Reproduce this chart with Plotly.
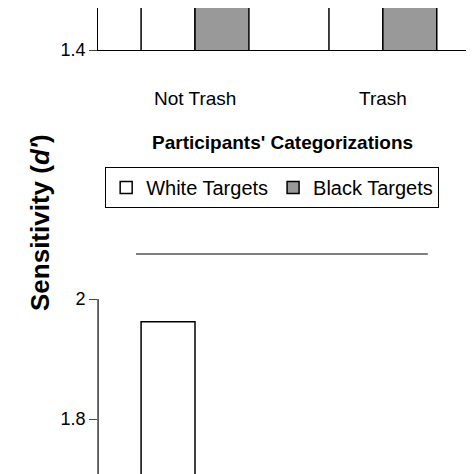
import plotly.graph_objects as go

categories = ["Not Trash", "Trash"]
series_names = ["White Targets", "Black Targets"]
top_white = [1.62, 1.62]
top_black = [1.62, 1.62]
bot_white = [1.962, 1.66]
bot_black = [1.66, 1.66]
bracket_x = [-0.314, 1.239]
bracket_y = [2.075, 2.075]
top_ticks = [1.4]
bot_ticks = [1.8, 2.0]

colors = ["white", "#999999"]
fig = go.Figure()
for name, vals, c in [(series_names[0], top_white, colors[0]), (series_names[1], top_black, colors[1])]:
    fig.add_bar(x=[0, 1], y=vals, name=name, marker=dict(color=c, line=dict(color="black", width=1.5)),
                xaxis="x", yaxis="y", offsetgroup=name)
for name, vals, c in [(series_names[0], bot_white, colors[0]), (series_names[1], bot_black, colors[1])]:
    fig.add_bar(x=[0, 1], y=vals, name=name, showlegend=False,
                marker=dict(color=c, line=dict(color="black", width=1.5)),
                xaxis="x2", yaxis="y2", offsetgroup=name)
fig.add_scatter(x=bracket_x, y=bracket_y, mode="lines", line=dict(color="black", width=1.2),
                showlegend=False, xaxis="x2", yaxis="y2")

xr = [-0.516, 1.452]
fig.update_layout(
    width=474, height=474, margin=dict(l=0, r=0, t=0, b=0, autoexpand=False),
    paper_bgcolor="white", plot_bgcolor="white",
    barmode="group", bargap=0.426, bargroupgap=0,
    font=dict(family="Arial, Liberation Sans", size=19, color="black"),
    xaxis=dict(domain=[0.19, 0.97], range=xr, showticklabels=False, showline=True, linecolor="black",
               ticks="", showgrid=False, anchor="y", zeroline=False, automargin=False),
    yaxis=dict(domain=[1 - 42 / 474, 1], range=[1.4, 1.47], tickvals=top_ticks, ticktext=["1.4"],
               ticks="outside", ticklen=8, showline=True, linecolor="black", showgrid=False,
               zeroline=False, anchor="x", tickfont=dict(size=18), automargin=False),
    xaxis2=dict(domain=[0.19, 0.97], range=xr, visible=False, anchor="y2", automargin=False),
    yaxis2=dict(domain=[0, 1 - 240 / 474], range=[1.695, 2.085], tickvals=bot_ticks, ticktext=["1.8", "2"],
                ticks="outside", ticklen=8, showline=False, showgrid=False, zeroline=False,
                anchor="x2", tickfont=dict(size=18), automargin=False),
    legend=dict(orientation="h", x=0.205, y=1 - 159 / 474, xanchor="left", yanchor="top",
                bordercolor="black", borderwidth=1, font=dict(size=20), itemwidth=30,
                tracegroupgap=0, traceorder="normal"),
    showlegend=True,
)
fig.add_shape(type="line", xref="paper", yref="y2", x0=0.19, x1=0.19, y0=1.695, y1=2.0,
              line=dict(color="black", width=1.2))
for i, c in enumerate(categories):
    fig.add_annotation(x=i, y=1 - 78 / 474, xref="x", yref="paper", text=c, showarrow=False,
                       font=dict(size=19))
fig.add_annotation(x=0.58, y=1 - 122 / 474, xref="paper", yref="paper", text="<b>Participants' Categorizations</b>",
                   showarrow=False, font=dict(size=19))
fig.add_annotation(x=15 / 474, y=1 - 215 / 474, xref="paper", yref="paper", textangle=-90,
                   text="<b>Sensitivity (<i>d'</i>)</b>", showarrow=False, font=dict(size=26))
fig.write_html("out.html")
